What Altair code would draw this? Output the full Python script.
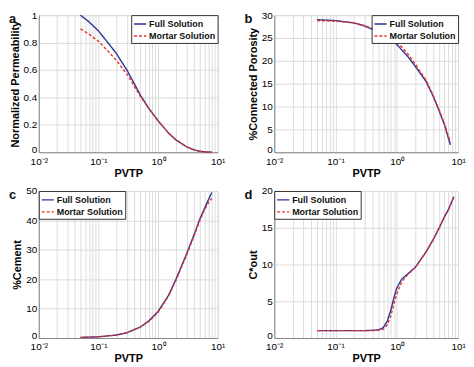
import altair as alt
import pandas as pd

FULL = "Full Solution"
MORTAR = "Mortar Solution"

# Panel a: Normalized permeability
a_x = [0.05, 0.07, 0.1, 0.15, 0.2, 0.3, 0.4, 0.5, 0.7, 1.0, 1.5, 2.0, 3.0, 4.0, 5.0, 6.0, 8.0]
a_full = [1.0, 0.95, 0.885, 0.79, 0.72, 0.6, 0.5, 0.42, 0.32, 0.23, 0.14, 0.09, 0.04, 0.017, 0.007, 0.003, 0.0]
a_mortar = [0.9, 0.86, 0.81, 0.73, 0.67, 0.57, 0.48, 0.41, 0.32, 0.23, 0.14, 0.09, 0.04, 0.017, 0.007, 0.003, 0.0]

# Panel b: %Connected porosity
b_x = [0.05, 0.1, 0.2, 0.3, 0.5, 0.7, 1.0, 1.5, 2.0, 3.0, 4.0, 5.0, 6.0, 7.5]
b_full = [29.0, 28.8, 28.3, 27.6, 26.3, 25.1, 23.6, 21.0, 18.8, 15.5, 12.0, 8.8, 6.0, 1.6]
b_mortar = [28.8, 28.7, 28.3, 27.7, 26.6, 25.5, 24.2, 21.6, 19.3, 15.8, 12.2, 9.0, 6.2, 2.2]

# Panel c: %Cement
c_x = [0.05, 0.1, 0.2, 0.3, 0.5, 0.7, 1.0, 1.5, 2.0, 3.0, 4.0, 5.0, 6.0, 7.0, 8.0]
c_full = [0.2, 0.4, 1.0, 1.8, 3.7, 5.8, 9.0, 14.5, 20.0, 28.5, 35.0, 40.3, 44.0, 47.0, 49.5]
c_mortar = [0.2, 0.4, 1.0, 1.8, 3.6, 5.6, 8.7, 14.2, 19.6, 28.1, 34.6, 39.8, 43.5, 46.0, 47.5]

# Panel d: C*out
d_x = [0.05, 0.1, 0.2, 0.3, 0.4, 0.5, 0.6, 0.7, 0.8, 0.9, 1.0, 1.2, 1.5, 2.0, 3.0, 4.0, 5.0, 6.0, 7.0, 8.5]
d_full = [1.0, 1.0, 1.0, 1.0, 1.05, 1.1, 1.4, 2.3, 3.8, 5.5, 6.8, 8.0, 8.7, 9.6, 11.7, 13.5, 15.1, 16.5, 17.5, 19.2]
d_mortar = [1.0, 1.0, 1.0, 1.0, 1.0, 1.05, 1.2, 1.8, 3.0, 4.7, 6.0, 7.6, 8.6, 9.6, 11.7, 13.5, 15.1, 16.5, 17.5, 19.1]

X_GRID = [m * 10 ** e for e in (-2, -1, 0) for m in range(1, 10)] + [10]
LABEL_EXPR = ("datum.value < 0.015 ? '10⁻²' : (abs(datum.value - 0.1) < 1e-6 ? '10⁻¹' : "
              "(abs(datum.value - 1) < 1e-6 ? '10⁰' : (abs(datum.value - 10) < 1e-6 ? '10¹' : '')))")
FONT = "Liberation Sans"


def panel(x, full, mortar, ytitle, ymax, ystep, letter, legend_orient, w, h):
    df = pd.DataFrame({
        "PVTP": list(x) + list(x),
        "value": list(full) + list(mortar),
        "Series": [FULL] * len(x) + [MORTAR] * len(x),
    })
    yvals = [round(i * ystep, 6) for i in range(int(round(ymax / ystep)) + 1)]
    lines = alt.Chart(df).mark_line(strokeWidth=1.4).encode(
        x=alt.X("PVTP:Q", scale=alt.Scale(type="log", domain=[0.01, 10], nice=False),
                axis=alt.Axis(values=X_GRID, labelExpr=LABEL_EXPR, title="PVTP",
                              labelFlush=False, labelOverlap=False, ticks=False,
                              gridColor="#dcdcdc", labelPadding=4, titlePadding=1)),
        y=alt.Y("value:Q", scale=alt.Scale(domain=[0, ymax], nice=False),
                axis=alt.Axis(values=yvals, format=".1~f", title=ytitle, ticks=False,
                              gridColor="#dcdcdc", labelPadding=2, titlePadding=3,
                              labelBaseline={"condition": {"test": "datum.value == 0",
                                                           "value": "alphabetic"},
                                             "value": "middle"})),
        color=alt.Color("Series:N",
                        scale=alt.Scale(domain=[FULL, MORTAR], range=["#2c3596", "#e8332d"]),
                        legend=alt.Legend(orient=legend_orient, title=None, offset=0,
                                          symbolType="stroke", symbolSize=150,
                                          symbolStrokeWidth=1.4, labelFontSize=9,
                                          labelFontWeight="bold", labelFont=FONT,
                                          labelColor="#111", strokeColor="#333",
                                          fillColor="white", padding=2, rowPadding=0,
                                          labelOffset=2)),
        strokeDash=alt.StrokeDash("Series:N",
                                  scale=alt.Scale(domain=[FULL, MORTAR], range=[[1, 0], [3, 2]]),
                                  legend=alt.Legend(orient=legend_orient, title=None, offset=0,
                                                    symbolType="stroke")),
        order=alt.Order("PVTP:Q"),
    )
    lab = alt.Chart(pd.DataFrame({"t": [letter]})).mark_text(
        fontSize=13, fontWeight="bold", font=FONT, align="left", baseline="top", color="#111"
    ).encode(text="t:N", x=alt.value(-30), y=alt.value(-2))
    return alt.layer(lines, lab).properties(width=w, height=h).resolve_scale(
        color="independent", strokeDash="independent")


pa = panel(a_x, a_full, a_mortar, "Normalized Permeability", 1.0, 0.2, "a", "top-right", 180, 138)
pb = panel(b_x, b_full, b_mortar, "%Connected Porosity", 30, 5, "b", "top-right", 185, 138)
pc = panel(c_x, c_full, c_mortar, "%Cement", 50, 10, "c", "top-left", 180, 148)
pd_ = panel(d_x, d_full, d_mortar, "C*out", 20, 5, "d", "top-left", 185, 148)

row1 = alt.hconcat(pa, pb, spacing=18).resolve_scale(color="independent", strokeDash="independent")
row2 = alt.hconcat(pc, pd_, spacing=18).resolve_scale(color="independent", strokeDash="independent")

chart = alt.vconcat(row1, row2, spacing=6).resolve_scale(
    color="independent", strokeDash="independent"
).properties(padding={"left": 0, "top": 0, "right": 0, "bottom": 0}).configure_view(
    stroke="#444", strokeWidth=1
).configure_axis(
    labelFont=FONT, labelFontWeight="bold", labelFontSize=9, labelColor="#111",
    titleFont=FONT, titleFontWeight="bold", titleFontSize=11, titleColor="#111",
    domain=False, gridWidth=0.8
).configure(background="white")

chart.save("out.html", embed_options={"renderer": "svg", "actions": False})
